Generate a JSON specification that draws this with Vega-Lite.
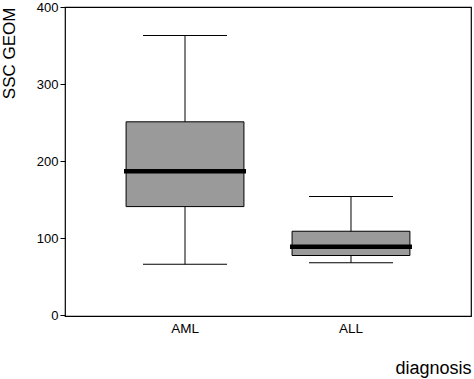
{
  "$schema": "https://vega.github.io/schema/vega-lite/v6.json",
  "width": 406,
  "height": 309,
  "autosize": "none",
  "padding": {"left": 65, "top": 7, "right": 3, "bottom": 63},
  "background": "white",
  "data": {"values": [
    {"diagnosis": "AML", "lower": 66, "q1": 141, "median": 187, "q3": 251, "upper": 363},
    {"diagnosis": "ALL", "lower": 68, "q1": 77.5, "median": 89, "q3": 109, "upper": 154}
  ]},
  "encoding": {
    "x": {
      "field": "diagnosis", "type": "nominal", "sort": ["AML", "ALL"],
      "scale": {"type": "band", "paddingInner": 0, "paddingOuter": 0.223},
      "axis": {
        "title": "diagnosis", "titleAnchor": "end", "titleAlign": "right", "titleBaseline": "alphabetic",
        "titleX": 406, "titleY": 57, "titleFontSize": 18, "titleFontWeight": "normal",
        "labelAngle": 0, "labelFontSize": 13.5, "labelPadding": 5, "ticks": false, "domain": false
      }
    }
  },
  "layer": [
    {
      "mark": {"type": "rule", "color": "black", "strokeWidth": 1},
      "encoding": {
        "y": {
          "field": "lower", "type": "quantitative",
          "scale": {"domain": [-1, 400], "nice": false, "zero": false},
          "axis": {
            "title": "SSC GEOM", "values": [0, 100, 200, 300, 400], "grid": false, "domain": false,
            "tickColor": "black", "tickSize": 5, "labelFontSize": 13, "labelPadding": 2,
            "titleFontSize": 17, "titleFontWeight": "normal", "titleAlign": "right", "titleBaseline": "middle",
            "titleAngle": -90, "titleX": -56, "titleY": 0
          }
        },
        "y2": {"field": "upper"}
      }
    },
    {
      "mark": {"type": "bar", "fill": "#9a9a9a", "stroke": "black", "strokeWidth": 1, "width": {"band": 0.71}},
      "encoding": {
        "y": {"field": "q1", "type": "quantitative"},
        "y2": {"field": "q3"}
      }
    },
    {
      "mark": {"type": "tick", "color": "black", "size": 84, "thickness": 1, "orient": "horizontal", "opacity": 1},
      "encoding": {"y": {"field": "lower", "type": "quantitative"}}
    },
    {
      "mark": {"type": "tick", "color": "black", "size": 84, "thickness": 1, "orient": "horizontal", "opacity": 1},
      "encoding": {"y": {"field": "upper", "type": "quantitative"}}
    },
    {
      "mark": {"type": "tick", "color": "black", "size": 122, "thickness": 4.5, "orient": "horizontal", "opacity": 1},
      "encoding": {"y": {"field": "median", "type": "quantitative"}}
    }
  ],
  "config": {
    "font": "Liberation Sans",
    "view": {"stroke": "black", "strokeWidth": 1.2},
    "axis": {"labelColor": "black", "titleColor": "black", "labelFont": "Liberation Sans", "titleFont": "Liberation Sans"}
  }
}
